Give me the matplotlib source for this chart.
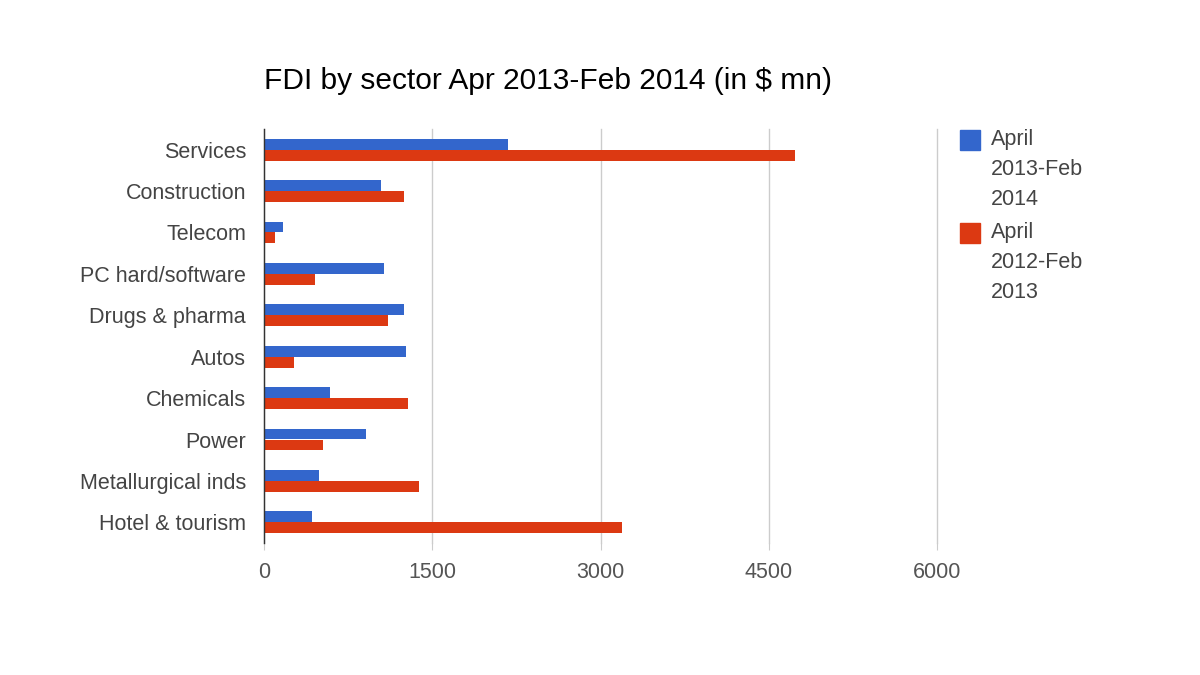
import matplotlib
matplotlib.use("Agg")
import matplotlib.pyplot as plt
from matplotlib.patches import Rectangle
import numpy as np

plt.rcParams['font.family'] = ['Liberation Sans', 'DejaVu Sans']

categories = ["Services", "Construction", "Telecom", "PC hard/software", "Drugs & pharma",
              "Autos", "Chemicals", "Power", "Metallurgical inds", "Hotel & tourism"]
fdi_2013_14 = [2172, 1040, 166, 1073, 1251, 1268, 587, 913, 489, 427]
fdi_2012_13 = [4730, 1251, 101, 456, 1102, 264, 1286, 522, 1381, 3195]
series_labels = ["April\n2013-Feb\n2014", "April\n2012-Feb\n2013"]
xticks = [0, 1500, 3000, 4500, 6000]
title = "FDI by sector Apr 2013-Feb 2014 (in $ mn)"

blue = "#3366cc"
red = "#dc3912"

fig = plt.figure(figsize=(12, 6.75), dpi=100)
ax = fig.add_axes([264/1200, 1-543/675, (937-264)/1200, (543-129)/675])

y = np.arange(len(categories))
h = 0.265
ax.barh(y - h/2, fdi_2013_14, height=h, color=blue, zorder=3)
ax.barh(y + h/2, fdi_2012_13, height=h, color=red, zorder=3)

ax.set_xlim(0, 6000)
ax.set_ylim(len(categories) - 0.5, -0.5)
ax.set_yticks(y)
ax.set_yticklabels(categories, fontsize=15.5, color="#444444")
ax.set_xticks(xticks)
ax.set_xticklabels([str(t) for t in xticks], fontsize=15.5, color="#555555")
ax.tick_params(axis='y', length=0, pad=13)
ax.tick_params(axis='x', length=5, color="#cccccc", pad=9, direction='out')
ax.grid(axis='x', color="#cccccc", linewidth=1, zorder=0)
for gl in ax.get_xgridlines():
    gl.set_clip_on(False)
for s in ['top', 'right', 'bottom']:
    ax.spines[s].set_visible(False)
ax.spines['left'].set_color("#333333")
ax.spines['left'].set_linewidth(1)
ax.spines['left'].set_zorder(4)

fig.text(264/1200, 1-81/675, title, fontsize=21.5, color="#000000", va='center', ha='left')

# legend
colors = [blue, red]
tops = [130, 223]
for c, t, lab in zip(colors, tops, series_labels):
    fig.add_artist(Rectangle((960/1200, 1-(t+20)/675), 20/1200, 20/675,
                             transform=fig.transFigure, facecolor=c, edgecolor=c))
    fig.text(991/1200, 1-(t-1)/675, lab, fontsize=15.5, color="#444444",
             va='top', ha='left', linespacing=1.55)

fig.savefig("out.png", dpi=100, facecolor="white")
